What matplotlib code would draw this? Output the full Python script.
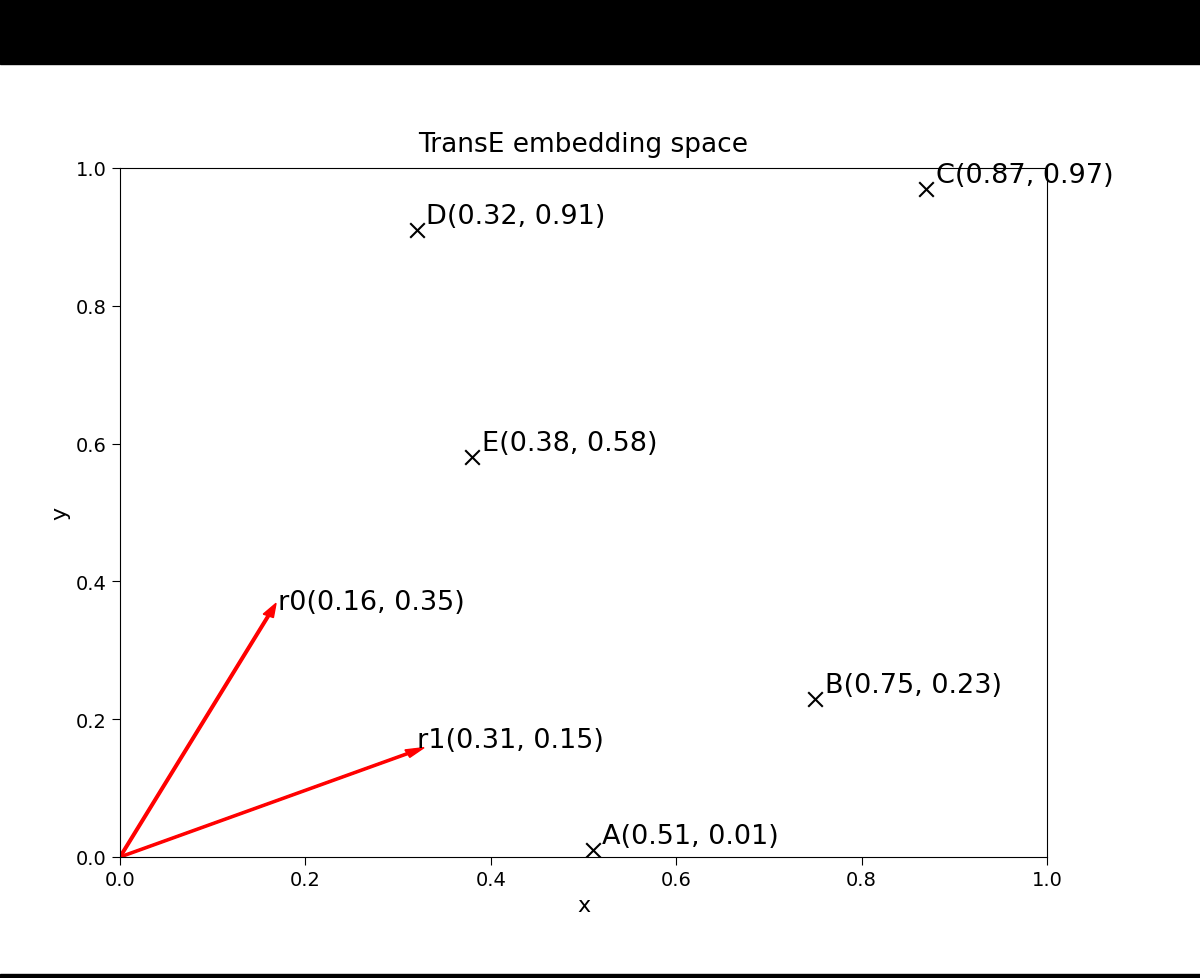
import matplotlib
matplotlib.use("Agg")
import matplotlib.pyplot as plt
from matplotlib.patches import Rectangle

names = ["A", "B", "C", "D", "E"]
xs = [0.51, 0.75, 0.87, 0.32, 0.38]
ys = [0.01, 0.23, 0.97, 0.91, 0.58]
rel_names = ["r0", "r1"]
rx = [0.16, 0.31]
ry = [0.35, 0.15]

fig = plt.figure(figsize=(12, 9.79), dpi=100)
fig.patches.append(Rectangle((0, 1 - 65/979), 1, 65/979, transform=fig.transFigure, color="black", zorder=0))
fig.patches.append(Rectangle((0, 0), 1, 4/979, transform=fig.transFigure, color="black", zorder=0))
ax = fig.add_axes([0.1, 0.1236, 0.7725, 0.7038])
ax.scatter(xs, ys, marker="x", color="black", s=110, linewidths=1.5)
for n, x, y in zip(names, xs, ys):
    ax.text(x + 0.01, y + 0.01, f"{n}({x:.2f}, {y:.2f})", fontsize=19.5)
for n, x, y in zip(rel_names, rx, ry):
    ax.arrow(0, 0, x, y, width=0.003, head_width=0.012, head_length=0.02,
             color="red", length_includes_head=False)
    ax.text(x + 0.01, y + 0.01, f"{n}({x:.2f}, {y:.2f})", fontsize=19.5)
ax.set_xlim(0, 1)
ax.set_ylim(0, 1)
ax.tick_params(labelsize=14, length=6)
ax.set_xlabel("x", fontsize=16)
ax.set_ylabel("y", fontsize=16)
ax.set_title("TransE embedding space", fontsize=19, pad=12)
fig.savefig("out.png", dpi=100)
